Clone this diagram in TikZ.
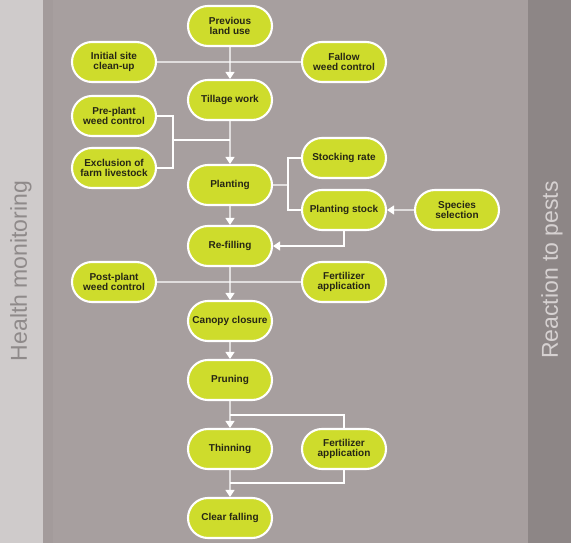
\documentclass[tikz,border=0pt]{standalone}
\usepackage{fontspec}
\setmainfont{Liberation Sans}
\usetikzlibrary{arrows.meta,shapes.misc}

\definecolor{bgmain}{HTML}{A79F9F}
\definecolor{bgleft}{HTML}{CFCBCB}
\definecolor{bgstrip}{HTML}{A39B9B}
\definecolor{bgright}{HTML}{8D8686}
\definecolor{leaf}{HTML}{CEDC2C}
\definecolor{ink}{HTML}{262615}
\definecolor{sidegrey}{HTML}{8F8A8A}
\definecolor{sidelight}{HTML}{D6D1D1}

\tikzset{
  task/.style={rounded rectangle, draw=white, line width=2.1pt, fill=leaf,
    text=ink, font=\fontsize{10}{10.5}\selectfont\bfseries, align=center,
    minimum width=88pt, minimum height=40pt, inner sep=2pt},
  conn/.style={draw=white, line width=1.3pt},
  flow/.style={conn, -{Triangle[width=9pt,length=7pt]}}
}

\begin{document}
\begin{tikzpicture}[x=1pt,y=-1pt]
   \useasboundingbox (0,0) rectangle (571,543);
   % Background bands
   \fill[bgmain] (0,0) rectangle (571,543);
   \fill[bgleft] (0,0) rectangle (43,543);
   \fill[bgstrip] (43,0) rectangle (53,543);
   \fill[bgright] (528,0) rectangle (571,543);
   \node[rotate=90, text=sidegrey, font=\fontsize{23}{25}\selectfont] (health) at (21,271) {Health monitoring};
   \node[rotate=90, text=sidelight, font=\fontsize{23}{25}\selectfont] (pests) at (552,270) {Reaction to pests};
   % Main column
   \node[task] (prev) at (230,26) {Previous\\land use};
   \node[task] (till) at (230,100) {Tillage work};
   \node[task] (plant) at (230,185) {Planting};
   \node[task] (refill) at (230,246) {Re-filling};
   \node[task] (canopy) at (230,321) {Canopy closure};
   \node[task] (prune) at (230,380) {Pruning};
   \node[task] (thin) at (230,449) {Thinning};
   \node[task] (clear) at (230,518) {Clear falling};
   % Left column
   \node[task] (init) at (114,62) {Initial site\\clean-up};
   \node[task] (pre) at (114,116) {Pre-plant\\weed control};
   \node[task] (excl) at (114,168) {Exclusion of\\farm livestock};
   \node[task] (post) at (114,282) {Post-plant\\weed control};
   % Right column
   \node[task] (fallow) at (344,62) {Fallow\\weed control};
   \node[task] (stock) at (344,158) {Stocking rate};
   \node[task] (pstock) at (344,210) {Planting stock};
   \node[task] (spec) at (457,210) {Species\\selection};
   \node[task] (fert) at (344,282) {Fertilizer\\application};
   \node[task] (fert2) at (344,449) {Fertilizer\\application};
   % Joints
   \coordinate (j1) at (173,140);
   \coordinate (j2) at (288,185);
   \coordinate (j3) at (230,415);
   \coordinate (j4) at (230,483);
   % Connectors
   \draw[flow] (prev) -- (till);
   \draw[conn] (init) -- (fallow);
   \draw[flow] (till) -- (plant);
   \draw[conn] (pre) -| (j1) |- (excl);
   \draw[conn] (j1) -- (j1 -| till);
   \draw[conn] (stock) -| (j2) |- (pstock);
   \draw[conn] (plant) -- (j2);
   \draw[flow] (spec) -- (pstock);
   \draw[flow] (pstock) |- (refill);
   \draw[flow] (plant) -- (refill);
   \draw[flow] (refill) -- (canopy);
   \draw[conn] (post) -- (fert);
   \draw[flow] (canopy) -- (prune);
   \draw[flow] (prune) -- (thin);
   \draw[conn] (j3) -| (fert2);
   \draw[conn] (fert2) |- (j4);
   \draw[flow] (thin) -- (clear);
\end{tikzpicture}
\end{document}
